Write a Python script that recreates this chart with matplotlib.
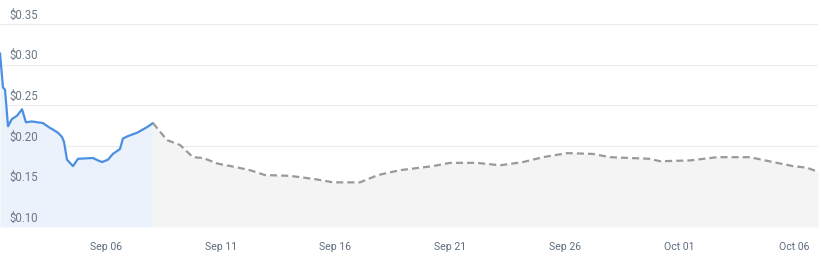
import matplotlib
matplotlib.use("Agg")
import matplotlib.pyplot as plt
import matplotlib.transforms as mtransforms

# days relative to Sep 06
hist_days = [-4.62, -4.49, -4.40, -4.27, -4.10, -3.88, -3.66, -3.49, -3.23, -2.75,
             -2.44, -2.31, -2.09, -1.92, -1.83, -1.70, -1.44, -1.22, -0.57, -0.35,
             -0.17, 0.09, 0.30, 0.61, 0.74, 0.96, 1.35, 1.79, 2.05]
hist_price = [0.314, 0.272, 0.269, 0.224, 0.233, 0.237, 0.245, 0.229, 0.230, 0.228,
              0.222, 0.220, 0.216, 0.211, 0.205, 0.183, 0.175, 0.184, 0.185, 0.182,
              0.180, 0.183, 0.190, 0.196, 0.209, 0.212, 0.216, 0.223, 0.228]

fc_days = [2.05, 2.66, 3.23, 3.79, 4.23, 4.88, 5.62, 6.28, 6.93, 8.02, 9.11, 9.90,
           11.07, 11.86, 12.82, 14.25, 15.00, 16.17, 17.18, 18.18, 19.05, 20.10,
           21.23, 21.97, 23.71, 24.15, 25.46, 26.64, 28.07, 29.08, 29.95, 30.56, 31.04]
fc_price = [0.228, 0.207, 0.201, 0.186, 0.185, 0.178, 0.174, 0.170, 0.164, 0.163,
            0.159, 0.155, 0.155, 0.164, 0.170, 0.175, 0.179, 0.179, 0.176, 0.180,
            0.186, 0.191, 0.190, 0.186, 0.184, 0.181, 0.182, 0.186, 0.186, 0.180,
            0.175, 0.173, 0.168]

x_ticks = [0, 5, 10, 15, 20, 25, 30]
x_labels = ["Sep 06", "Sep 11", "Sep 16", "Sep 21", "Sep 26", "Oct 01", "Oct 06"]
y_ticks = [0.10, 0.15, 0.20, 0.25, 0.30, 0.35]
y_labels = ["$0.10", "$0.15", "$0.20", "$0.25", "$0.30", "$0.35"]

plt.rcParams['font.family'] = ['Roboto', 'DejaVu Sans']

fig = plt.figure(figsize=(8.22, 2.68), dpi=100)
ax = fig.add_axes([0, 41/268, 818/822, 227/268])
ymin, ymax = 0.10, 0.3796
ax.set_xlim(-4.62, 31.04)
ax.set_ylim(ymin, ymax)

for yt in y_ticks:
    ax.axhline(yt, color="#ececec" if yt > 0.10 else "#e3e3e3", lw=0.8, zorder=0)

ax.fill_between(hist_days, hist_price, ymin, color="#ebf2fc", lw=0, zorder=1)
ax.fill_between(fc_days, fc_price, ymin, color="#f4f4f4", lw=0, zorder=1)
ax.plot(hist_days, hist_price, color="#4a8fe2", lw=1.6, solid_joinstyle="round",
        solid_capstyle="round", zorder=3)
ax.plot(fc_days, fc_price, color="#9a9a9a", lw=1.6, dashes=(3.2, 1.8), zorder=3)

trans = mtransforms.blended_transform_factory(ax.transAxes, ax.transData)
offset = mtransforms.offset_copy(trans, fig=fig, x=9/100, y=2.5/100, units="inches")
for yt, lab in zip(y_ticks, y_labels):
    ax.text(0, yt, lab, transform=offset, ha="left", va="bottom",
            fontsize=8.3, color="#6b7888", zorder=4)

ax.set_xticks(x_ticks)
ax.set_xticklabels(x_labels, fontsize=7.6, color="#5d6d80")
ax.tick_params(axis="x", length=0, pad=11)
ax.set_yticks([])
for s in ax.spines.values():
    s.set_visible(False)
ax.set_facecolor("white")

fig.savefig("out.png", dpi=100)
